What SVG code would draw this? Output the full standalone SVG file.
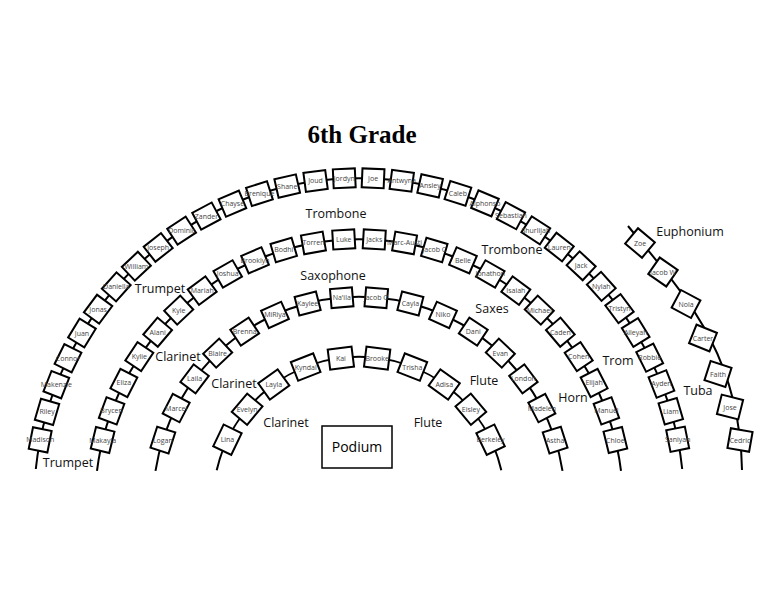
<svg xmlns="http://www.w3.org/2000/svg" width="768" height="594" viewBox="0 0 768 594">
<style>
.a{fill:none;stroke:#000;stroke-width:2}
.s rect{fill:#fff;stroke:#000;stroke-width:2}
.s text{font-family:"Open Sans",sans-serif;font-size:7px;fill:#444;text-anchor:middle}
.l{font-family:"Open Sans",sans-serif;font-size:12.5px;fill:#111;text-anchor:middle}
</style>
<rect width="768" height="594" fill="#fff"/>
<text x="362" y="143" text-anchor="middle" font-family="Liberation Serif,serif" font-weight="bold" font-size="25">6th Grade</text>
<g id="connectors">
<path class="a" d="M35.8,469 A325,325 0 0 1 682.2,469"/>
<path class="a" d="M97,470.8 A264,264 0 0 1 621,470.8"/>
<path class="a" d="M155.5,470.8 A206,206 0 0 1 562.5,470.8"/>
<path class="a" d="M216.7,470.2 A146,146 0 0 1 501.3,470.2"/>
<path class="a" d="M628,226 C680,290 740,350 742,470"/>
</g>
<g id="row1">
<g class="s" id="madison" transform="rotate(-78.8 359 503) translate(359 178)"><rect x="-11" y="-9.5" width="22" height="19"/><text transform="rotate(78.8)" y="2.5">Madison</text></g>
<g class="s" id="riley" transform="rotate(-73.72 359 503) translate(359 178)"><rect x="-11" y="-9.5" width="22" height="19"/><text transform="rotate(73.72)" y="2.5">Riley</text></g>
<g class="s" id="makenzie" transform="rotate(-68.64 359 503) translate(359 178)"><rect x="-11" y="-9.5" width="22" height="19"/><text transform="rotate(68.64)" y="2.5">Makenzie</text></g>
<g class="s" id="connor" transform="rotate(-63.56 359 503) translate(359 178)"><rect x="-11" y="-9.5" width="22" height="19"/><text transform="rotate(63.56)" y="2.5">Connor</text></g>
<g class="s" id="juan" transform="rotate(-58.48 359 503) translate(359 178)"><rect x="-11" y="-9.5" width="22" height="19"/><text transform="rotate(58.48)" y="2.5">Juan</text></g>
<g class="s" id="jonas" transform="rotate(-53.4 359 503) translate(359 178)"><rect x="-11" y="-9.5" width="22" height="19"/><text transform="rotate(53.4)" y="2.5">Jonas</text></g>
<g class="s" id="daniella" transform="rotate(-48.32 359 503) translate(359 178)"><rect x="-11" y="-9.5" width="22" height="19"/><text transform="rotate(48.32)" y="2.5">Daniella</text></g>
<g class="s" id="william" transform="rotate(-43.24 359 503) translate(359 178)"><rect x="-11" y="-9.5" width="22" height="19"/><text transform="rotate(43.24)" y="2.5">William</text></g>
<g class="s" id="joseph" transform="rotate(-38.16 359 503) translate(359 178)"><rect x="-11" y="-9.5" width="22" height="19"/><text transform="rotate(38.16)" y="2.5">Joseph</text></g>
<g class="s" id="dominic" transform="rotate(-33.08 359 503) translate(359 178)"><rect x="-11" y="-9.5" width="22" height="19"/><text transform="rotate(33.08)" y="2.5">Dominic</text></g>
<g class="s" id="zander" transform="rotate(-28 359 503) translate(359 178)"><rect x="-11" y="-9.5" width="22" height="19"/><text transform="rotate(28)" y="2.5">Zander</text></g>
<g class="s" id="chayse" transform="rotate(-22.92 359 503) translate(359 178)"><rect x="-11" y="-9.5" width="22" height="19"/><text transform="rotate(22.92)" y="2.5">Chayse</text></g>
<g class="s" id="brenique" transform="rotate(-17.84 359 503) translate(359 178)"><rect x="-11" y="-9.5" width="22" height="19"/><text transform="rotate(17.84)" y="2.5">Brenique</text></g>
<g class="s" id="shane" transform="rotate(-12.76 359 503) translate(359 178)"><rect x="-11" y="-9.5" width="22" height="19"/><text transform="rotate(12.76)" y="2.5">Shane</text></g>
<g class="s" id="joud" transform="rotate(-7.68 359 503) translate(359 178)"><rect x="-11" y="-9.5" width="22" height="19"/><text transform="rotate(7.68)" y="2.5">Joud</text></g>
<g class="s" id="jordyn" transform="rotate(-2.6 359 503) translate(359 178)"><rect x="-11" y="-9.5" width="22" height="19"/><text transform="rotate(2.6)" y="2.5">Jordyn</text></g>
<g class="s" id="joe" transform="rotate(2.48 359 503) translate(359 178)"><rect x="-11" y="-9.5" width="22" height="19"/><text transform="rotate(-2.48)" y="2.5">Joe</text></g>
<g class="s" id="antwyna" transform="rotate(7.56 359 503) translate(359 178)"><rect x="-11" y="-9.5" width="22" height="19"/><text transform="rotate(-7.56)" y="2.5">Antwyna</text></g>
<g class="s" id="ansley" transform="rotate(12.64 359 503) translate(359 178)"><rect x="-11" y="-9.5" width="22" height="19"/><text transform="rotate(-12.64)" y="2.5">Ansley</text></g>
<g class="s" id="caleb" transform="rotate(17.72 359 503) translate(359 178)"><rect x="-11" y="-9.5" width="22" height="19"/><text transform="rotate(-17.72)" y="2.5">Caleb</text></g>
<g class="s" id="alphonso" transform="rotate(22.8 359 503) translate(359 178)"><rect x="-11" y="-9.5" width="22" height="19"/><text transform="rotate(-22.8)" y="2.5">Alphonso</text></g>
<g class="s" id="sebastian" transform="rotate(27.88 359 503) translate(359 178)"><rect x="-11" y="-9.5" width="22" height="19"/><text transform="rotate(-27.88)" y="2.5">Sebastian</text></g>
<g class="s" id="shurlijah" transform="rotate(32.96 359 503) translate(359 178)"><rect x="-11" y="-9.5" width="22" height="19"/><text transform="rotate(-32.96)" y="2.5">Shurlijah</text></g>
<g class="s" id="lauren" transform="rotate(38.04 359 503) translate(359 178)"><rect x="-11" y="-9.5" width="22" height="19"/><text transform="rotate(-38.04)" y="2.5">Lauren</text></g>
<g class="s" id="jack" transform="rotate(43.12 359 503) translate(359 178)"><rect x="-11" y="-9.5" width="22" height="19"/><text transform="rotate(-43.12)" y="2.5">Jack</text></g>
<g class="s" id="nylah" transform="rotate(48.2 359 503) translate(359 178)"><rect x="-11" y="-9.5" width="22" height="19"/><text transform="rotate(-48.2)" y="2.5">Nylah</text></g>
<g class="s" id="tristyn" transform="rotate(53.28 359 503) translate(359 178)"><rect x="-11" y="-9.5" width="22" height="19"/><text transform="rotate(-53.28)" y="2.5">Tristyn</text></g>
<g class="s" id="aileyah" transform="rotate(58.36 359 503) translate(359 178)"><rect x="-11" y="-9.5" width="22" height="19"/><text transform="rotate(-58.36)" y="2.5">Aileyah</text></g>
<g class="s" id="robbie" transform="rotate(63.44 359 503) translate(359 178)"><rect x="-11" y="-9.5" width="22" height="19"/><text transform="rotate(-63.44)" y="2.5">Robbie</text></g>
<g class="s" id="ayden" transform="rotate(68.52 359 503) translate(359 178)"><rect x="-11" y="-9.5" width="22" height="19"/><text transform="rotate(-68.52)" y="2.5">Ayden</text></g>
<g class="s" id="liam" transform="rotate(73.6 359 503) translate(359 178)"><rect x="-11" y="-9.5" width="22" height="19"/><text transform="rotate(-73.6)" y="2.5">Liam</text></g>
<g class="s" id="saniyah" transform="rotate(78.68 359 503) translate(359 178)"><rect x="-11" y="-9.5" width="22" height="19"/><text transform="rotate(-78.68)" y="2.5">Saniyah</text></g>
</g>
<g id="row2">
<g class="s" id="makayla" transform="rotate(-76.2 359 503) translate(359 239)"><rect x="-11" y="-9.5" width="22" height="19"/><text transform="rotate(76.2)" y="2.5">Makayla</text></g>
<g class="s" id="brycen" transform="rotate(-69.57 359 503) translate(359 239)"><rect x="-11" y="-9.5" width="22" height="19"/><text transform="rotate(69.57)" y="2.5">Brycen</text></g>
<g class="s" id="eliza" transform="rotate(-62.95 359 503) translate(359 239)"><rect x="-11" y="-9.5" width="22" height="19"/><text transform="rotate(62.95)" y="2.5">Eliza</text></g>
<g class="s" id="kylie" transform="rotate(-56.32 359 503) translate(359 239)"><rect x="-11" y="-9.5" width="22" height="19"/><text transform="rotate(56.32)" y="2.5">Kylie</text></g>
<g class="s" id="alani" transform="rotate(-49.7 359 503) translate(359 239)"><rect x="-11" y="-9.5" width="22" height="19"/><text transform="rotate(49.7)" y="2.5">Alani</text></g>
<g class="s" id="kyle" transform="rotate(-43.07 359 503) translate(359 239)"><rect x="-11" y="-9.5" width="22" height="19"/><text transform="rotate(43.07)" y="2.5">Kyle</text></g>
<g class="s" id="mariah" transform="rotate(-36.44 359 503) translate(359 239)"><rect x="-11" y="-9.5" width="22" height="19"/><text transform="rotate(36.44)" y="2.5">Mariah</text></g>
<g class="s" id="joshua" transform="rotate(-29.82 359 503) translate(359 239)"><rect x="-11" y="-9.5" width="22" height="19"/><text transform="rotate(29.82)" y="2.5">Joshua</text></g>
<g class="s" id="brooklyn" transform="rotate(-23.19 359 503) translate(359 239)"><rect x="-11" y="-9.5" width="22" height="19"/><text transform="rotate(23.19)" y="2.5">Brooklyn</text></g>
<g class="s" id="bodhi" transform="rotate(-16.57 359 503) translate(359 239)"><rect x="-11" y="-9.5" width="22" height="19"/><text transform="rotate(16.57)" y="2.5">Bodhi</text></g>
<g class="s" id="torren" transform="rotate(-9.94 359 503) translate(359 239)"><rect x="-11" y="-9.5" width="22" height="19"/><text transform="rotate(9.94)" y="2.5">Torren</text></g>
<g class="s" id="luke" transform="rotate(-3.31 359 503) translate(359 239)"><rect x="-11" y="-9.5" width="22" height="19"/><text transform="rotate(3.31)" y="2.5">Luke</text></g>
<g class="s" id="jacks" transform="rotate(3.31 359 503) translate(359 239)"><rect x="-11" y="-9.5" width="22" height="19"/><text transform="rotate(-3.31)" y="2.5">Jacks</text></g>
<g class="s" id="marc-austi" transform="rotate(9.94 359 503) translate(359 239)"><rect x="-11" y="-9.5" width="22" height="19"/><text transform="rotate(-9.94)" y="2.5">Marc-Austi</text></g>
<g class="s" id="jacobc" transform="rotate(16.57 359 503) translate(359 239)"><rect x="-11" y="-9.5" width="22" height="19"/><text transform="rotate(-16.57)" y="2.5">Jacob C</text></g>
<g class="s" id="belle" transform="rotate(23.19 359 503) translate(359 239)"><rect x="-11" y="-9.5" width="22" height="19"/><text transform="rotate(-23.19)" y="2.5">Belle</text></g>
<g class="s" id="jonathon" transform="rotate(29.82 359 503) translate(359 239)"><rect x="-11" y="-9.5" width="22" height="19"/><text transform="rotate(-29.82)" y="2.5">Jonathon</text></g>
<g class="s" id="isaiah" transform="rotate(36.44 359 503) translate(359 239)"><rect x="-11" y="-9.5" width="22" height="19"/><text transform="rotate(-36.44)" y="2.5">Isaiah</text></g>
<g class="s" id="michael" transform="rotate(43.07 359 503) translate(359 239)"><rect x="-11" y="-9.5" width="22" height="19"/><text transform="rotate(-43.07)" y="2.5">Michael</text></g>
<g class="s" id="caden" transform="rotate(49.7 359 503) translate(359 239)"><rect x="-11" y="-9.5" width="22" height="19"/><text transform="rotate(-49.7)" y="2.5">Caden</text></g>
<g class="s" id="cohen" transform="rotate(56.32 359 503) translate(359 239)"><rect x="-11" y="-9.5" width="22" height="19"/><text transform="rotate(-56.32)" y="2.5">Cohen</text></g>
<g class="s" id="elijah" transform="rotate(62.95 359 503) translate(359 239)"><rect x="-11" y="-9.5" width="22" height="19"/><text transform="rotate(-62.95)" y="2.5">Elijah</text></g>
<g class="s" id="manuel" transform="rotate(69.57 359 503) translate(359 239)"><rect x="-11" y="-9.5" width="22" height="19"/><text transform="rotate(-69.57)" y="2.5">Manuel</text></g>
<g class="s" id="chloe" transform="rotate(76.2 359 503) translate(359 239)"><rect x="-11" y="-9.5" width="22" height="19"/><text transform="rotate(-76.2)" y="2.5">Chloe</text></g>
</g>
<g id="row3">
<g class="s" id="logan" transform="rotate(-72.2 359 503) translate(359 297)"><rect x="-11" y="-9.5" width="22" height="19"/><text transform="rotate(72.2)" y="2.5">Logan</text></g>
<g class="s" id="marcel" transform="rotate(-62.57 359 503) translate(359 297)"><rect x="-11" y="-9.5" width="22" height="19"/><text transform="rotate(62.57)" y="2.5">Marcel</text></g>
<g class="s" id="laila" transform="rotate(-52.95 359 503) translate(359 297)"><rect x="-11" y="-9.5" width="22" height="19"/><text transform="rotate(52.95)" y="2.5">Laila</text></g>
<g class="s" id="blaire" transform="rotate(-43.32 359 503) translate(359 297)"><rect x="-11" y="-9.5" width="22" height="19"/><text transform="rotate(43.32)" y="2.5">Blaire</text></g>
<g class="s" id="brenna" transform="rotate(-33.69 359 503) translate(359 297)"><rect x="-11" y="-9.5" width="22" height="19"/><text transform="rotate(33.69)" y="2.5">Brenna</text></g>
<g class="s" id="miriya" transform="rotate(-24.07 359 503) translate(359 297)"><rect x="-11" y="-9.5" width="22" height="19"/><text transform="rotate(24.07)" y="2.5">MiRiya</text></g>
<g class="s" id="kaylee" transform="rotate(-14.44 359 503) translate(359 297)"><rect x="-11" y="-9.5" width="22" height="19"/><text transform="rotate(14.44)" y="2.5">Kaylee</text></g>
<g class="s" id="naila" transform="rotate(-4.81 359 503) translate(359 297)"><rect x="-11" y="-9.5" width="22" height="19"/><text transform="rotate(4.81)" y="2.5">Na'ila</text></g>
<g class="s" id="jacobo" transform="rotate(4.81 359 503) translate(359 297)"><rect x="-11" y="-9.5" width="22" height="19"/><text transform="rotate(-4.81)" y="2.5">Jacob O</text></g>
<g class="s" id="cayla" transform="rotate(14.44 359 503) translate(359 297)"><rect x="-11" y="-9.5" width="22" height="19"/><text transform="rotate(-14.44)" y="2.5">Cayla</text></g>
<g class="s" id="niko" transform="rotate(24.07 359 503) translate(359 297)"><rect x="-11" y="-9.5" width="22" height="19"/><text transform="rotate(-24.07)" y="2.5">Niko</text></g>
<g class="s" id="dani" transform="rotate(33.69 359 503) translate(359 297)"><rect x="-11" y="-9.5" width="22" height="19"/><text transform="rotate(-33.69)" y="2.5">Dani</text></g>
<g class="s" id="evan" transform="rotate(43.32 359 503) translate(359 297)"><rect x="-11" y="-9.5" width="22" height="19"/><text transform="rotate(-43.32)" y="2.5">Evan</text></g>
<g class="s" id="london" transform="rotate(52.95 359 503) translate(359 297)"><rect x="-11" y="-9.5" width="22" height="19"/><text transform="rotate(-52.95)" y="2.5">London</text></g>
<g class="s" id="madelen" transform="rotate(62.57 359 503) translate(359 297)"><rect x="-11" y="-9.5" width="22" height="19"/><text transform="rotate(-62.57)" y="2.5">Madelen</text></g>
<g class="s" id="astha" transform="rotate(72.2 359 503) translate(359 297)"><rect x="-11" y="-9.5" width="22" height="19"/><text transform="rotate(-72.2)" y="2.5">Astha</text></g>
</g>
<g id="row4">
<g class="s" id="lina" transform="rotate(-64.3 359 503) translate(359 357)"><rect x="-12" y="-10" width="24" height="20"/><text transform="rotate(64.3)" y="2.5">Lina</text></g>
<g class="s" id="evelyn" transform="rotate(-50.01 359 503) translate(359 357)"><rect x="-12" y="-10" width="24" height="20"/><text transform="rotate(50.01)" y="2.5">Evelyn</text></g>
<g class="s" id="layla" transform="rotate(-35.72 359 503) translate(359 357)"><rect x="-12" y="-10" width="24" height="20"/><text transform="rotate(35.72)" y="2.5">Layla</text></g>
<g class="s" id="kyndal" transform="rotate(-21.43 359 503) translate(359 357)"><rect x="-12" y="-10" width="24" height="20"/><text transform="rotate(21.43)" y="2.5">Kyndal</text></g>
<g class="s" id="kai" transform="rotate(-7.14 359 503) translate(359 357)"><rect x="-12" y="-10" width="24" height="20"/><text transform="rotate(7.14)" y="2.5">Kai</text></g>
<g class="s" id="brooke" transform="rotate(7.14 359 503) translate(359 357)"><rect x="-12" y="-10" width="24" height="20"/><text transform="rotate(-7.14)" y="2.5">Brooke</text></g>
<g class="s" id="trisha" transform="rotate(21.43 359 503) translate(359 357)"><rect x="-12" y="-10" width="24" height="20"/><text transform="rotate(-21.43)" y="2.5">Trisha</text></g>
<g class="s" id="adisa" transform="rotate(35.72 359 503) translate(359 357)"><rect x="-12" y="-10" width="24" height="20"/><text transform="rotate(-35.72)" y="2.5">Adisa</text></g>
<g class="s" id="eisley" transform="rotate(50.01 359 503) translate(359 357)"><rect x="-12" y="-10" width="24" height="20"/><text transform="rotate(-50.01)" y="2.5">Eisley</text></g>
<g class="s" id="berkeley" transform="rotate(64.3 359 503) translate(359 357)"><rect x="-12" y="-10" width="24" height="20"/><text transform="rotate(-64.3)" y="2.5">Berkeley</text></g>
</g>
<g id="row5">
<g class="s" id="zoe" transform="translate(640 243) rotate(40)"><rect x="-11" y="-10" width="22" height="20"/><text transform="rotate(-40)" y="2.5">Zoe</text></g>
<g class="s" id="jacobw" transform="translate(663 272) rotate(35)"><rect x="-11" y="-10" width="22" height="20"/><text transform="rotate(-35)" y="2.5">Jacob W</text></g>
<g class="s" id="nola" transform="translate(686 304) rotate(28)"><rect x="-11" y="-10" width="22" height="20"/><text transform="rotate(-28)" y="2.5">Nola</text></g>
<g class="s" id="carter" transform="translate(703 338) rotate(22)"><rect x="-11" y="-10" width="22" height="20"/><text transform="rotate(-22)" y="2.5">Carter</text></g>
<g class="s" id="faith" transform="translate(718 374) rotate(18)"><rect x="-11" y="-10" width="22" height="20"/><text transform="rotate(-18)" y="2.5">Faith</text></g>
<g class="s" id="jose" transform="translate(730 407) rotate(14)"><rect x="-11" y="-10" width="22" height="20"/><text transform="rotate(-14)" y="2.5">Jose</text></g>
<g class="s" id="cedric" transform="translate(740 440) rotate(10)"><rect x="-11" y="-10" width="22" height="20"/><text transform="rotate(-10)" y="2.5">Cedric</text></g>
</g>
<g id="labels">
<text class="l" x="336" y="218">Trombone</text>
<text class="l" x="512" y="254">Trombone</text>
<text class="l" x="690" y="236">Euphonium</text>
<text class="l" x="160" y="293">Trumpet</text>
<text class="l" x="333" y="280">Saxophone</text>
<text class="l" x="492" y="313">Saxes</text>
<text class="l" x="178" y="361">Clarinet</text>
<text class="l" x="234" y="388">Clarinet</text>
<text class="l" x="484" y="385">Flute</text>
<text class="l" x="573" y="402">Horn</text>
<text class="l" x="618" y="365">Trom</text>
<text class="l" x="698" y="395">Tuba</text>
<text class="l" x="286" y="427">Clarinet</text>
<text class="l" x="428" y="427">Flute</text>
<text class="l" x="68" y="467">Trumpet</text>
</g>
<g id="podium">
<rect x="322" y="426" width="70" height="42" fill="#fff" stroke="#000" stroke-width="1.5"/>
<text x="357" y="452" text-anchor="middle" font-family="Open Sans,sans-serif" font-size="14">Podium</text>
</g>
</svg>
